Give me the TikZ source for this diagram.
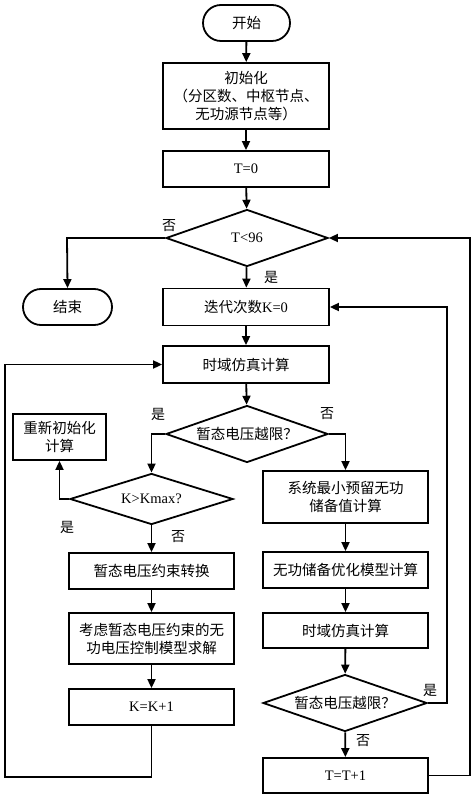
\documentclass[tikz,border=0pt]{standalone}
\usepackage{fontspec}
\setmainfont{Liberation Serif}
\newfontfamily\cjk{Noto Sans CJK SC}
\usetikzlibrary{shapes.geometric,arrows.meta}
\begin{document}
\begin{tikzpicture}[x=1pt,y=-1pt,
  every node/.style={font=\fontsize{14.5pt}{18pt}\selectfont},
  box/.style={draw,line width=1.8pt,rectangle,minimum width=166pt,align=center,inner sep=1pt},
  term/.style={draw,line width=1.8pt,rectangle,rounded corners=18pt,minimum height=36pt,inner sep=1pt},
  dec/.style={draw,line width=1.8pt,diamond,aspect=2.9,inner sep=0pt,minimum width=162pt,minimum height=57pt},
  lab/.style={font=\cjk\fontsize{14pt}{15pt}\selectfont,inner sep=0pt},
  arr/.style={line width=1.8pt,-{Triangle[length=9pt,width=8pt]}}]
\useasboundingbox (0,0) rectangle (474,799);
\node[term,minimum width=87pt] (start) at (246.5,23) {\cjk 开始};
\node[box,minimum height=66pt] (init) at (246,96) {\cjk 初始化\\\cjk （分区数、中枢节点、\\\cjk 无功源节点等）};
\node[box,minimum height=36pt] (t0) at (246,169) {T=0};
\node[dec] (d1) at (247,238) {T\textless96};
\node[term,minimum width=89pt] (end) at (67.5,307) {\cjk 结束};
\node[box,minimum height=37pt] (k0) at (246,307) {{\cjk 迭代次数}K=0};
\node[box,minimum height=37pt] (sim1) at (246,364.5) {\cjk 时域仿真计算};
\node[dec] (d2) at (247,434) {\cjk 暂态电压越限？};
\node[box,minimum width=93pt,minimum height=46pt] (reinit) at (59.5,437) {\cjk 重新初始化\\\cjk 计算};
\node[dec,aspect=3.2,minimum width=163pt,minimum height=51pt] (d3) at (151.5,499) {K\textgreater Kmax?};
\node[box,minimum width=165pt,minimum height=36pt] (conv) at (151.5,571) {\cjk 暂态电压约束转换};
\node[box,minimum width=165pt,minimum height=51pt] (solve) at (151.5,638.5) {\cjk 考虑暂态电压约束的无\\\cjk 功电压控制模型求解};
\node[box,minimum width=165pt,minimum height=36pt] (kk) at (151.5,707) {K=K+1};
\node[box,minimum width=165pt,minimum height=52pt] (sys) at (345.5,497) {\cjk 系统最小预留无功\\\cjk 储备值计算};
\node[box,minimum width=165pt,minimum height=36pt] (opt) at (345.5,570) {\cjk 无功储备优化模型计算};
\node[box,minimum width=165pt,minimum height=35pt] (sim2) at (345.5,630.5) {\cjk 时域仿真计算};
\node[dec,minimum width=164pt] (d4) at (345,703) {\cjk 暂态电压越限？};
\node[box,minimum width=165pt,minimum height=35pt] (tt) at (345.5,775.5) {T=T+1};
% labels
\node[lab] (l1) at (169,226) {否};
\node[lab] (l2) at (271,277) {是};
\node[lab] (l3) at (158,414) {是};
\node[lab] (l4) at (327,414) {否};
\node[lab] (l5) at (67,527) {是};
\node[lab] (l6) at (178,537) {否};
\node[lab] (l7) at (430,690) {是};
\node[lab] (l8) at (363,741) {否};
% coordinates
\coordinate (c1) at (67,238);
\coordinate (c2) at (151.5,434);
\coordinate (c3) at (345.5,434);
\coordinate (c4) at (59.5,499);
\coordinate (c5) at (151.5,777);
\coordinate (c6) at (5,777);
\coordinate (c7) at (5,364.5);
\coordinate (c8) at (447,703);
\coordinate (c9) at (447,307);
\coordinate (c10) at (470,775.5);
\coordinate (c11) at (470,238);
% connectors
\draw[arr] (start) -- (init);
\draw[arr] (init) -- (t0);
\draw[arr] (t0) -- (d1);
\draw[arr] (d1.west) -- (c1) -- (end.north);
\draw[arr] (d1) -- (k0);
\draw[arr] (k0) -- (sim1);
\draw[arr] (sim1) -- (d2);
\draw[arr] (d2.west) -- (c2) -- (d3.north);
\draw[arr] (d2.east) -- (c3) -- (sys.north);
\draw[arr] (d3.west) -- (c4) -- (reinit.south);
\draw[arr] (d3) -- (conv);
\draw[arr] (conv) -- (solve);
\draw[arr] (solve) -- (kk);
\draw[arr] (kk.south) -- (c5) -- (c6) -- (c7) -- (sim1.west);
\draw[arr] (sys) -- (opt);
\draw[arr] (opt) -- (sim2);
\draw[arr] (sim2) -- (d4);
\draw[arr] (d4) -- (tt);
\draw[arr] (d4.east) -- (c8) -- (c9) -- (k0.east);
\draw[arr] (tt.east) -- (c10) -- (c11) -- (d1.east);
\end{tikzpicture}
\end{document}
